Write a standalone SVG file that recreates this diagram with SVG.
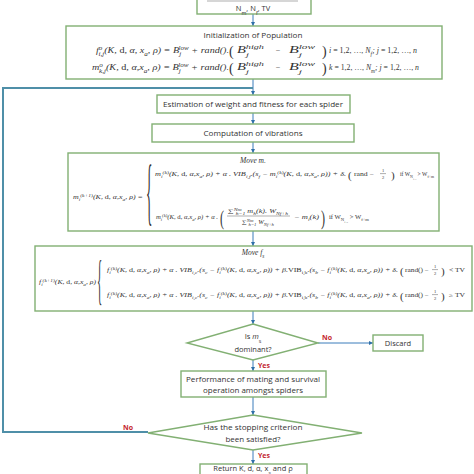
<svg xmlns="http://www.w3.org/2000/svg" width="474" height="474" viewBox="0 0 474 474">
<defs>
<marker id="arr" viewBox="0 0 6 6" refX="6" refY="3" markerWidth="4" markerHeight="4" orient="auto" markerUnits="userSpaceOnUse">
<path d="M0,0 L6,3 L0,6 z" fill="#2f6fa8"/>
</marker>
<style>
.box{fill:#fff;stroke:#82b073;stroke-width:1.4}
.ln{fill:none;stroke:#3a7dbb;stroke-width:1}
.loop{fill:none;stroke:#4f8fa8;stroke-width:2}
.lbl{font-family:"Open Sans","Liberation Sans",sans-serif;font-size:7.5px;fill:#333;text-anchor:middle}
.m{font-family:"Liberation Serif",serif;font-style:italic;fill:#333}
.u{font-style:normal}
.big{font-family:"Liberation Serif",serif;fill:#333}
.yn{font-family:"Open Sans","Liberation Sans",sans-serif;font-weight:bold;font-size:7px;fill:#c4262e}
.sb{baseline-shift:sub;font-size:70%}
.sp{baseline-shift:super;font-size:70%}
</style>
</defs>

<g id="connectors">
<line class="ln" x1="253" y1="14" x2="253" y2="26" marker-end="url(#arr)"/>
<line class="ln" x1="253" y1="79" x2="253" y2="95" marker-end="url(#arr)"/>
<polyline class="loop" points="148,432 3,432 3,88 253,88"/>
<line class="ln" x1="253" y1="113" x2="253" y2="124" marker-end="url(#arr)"/>
<line class="ln" x1="253" y1="142" x2="253" y2="153" marker-end="url(#arr)"/>
<line class="ln" x1="253" y1="231" x2="253" y2="246" marker-end="url(#arr)"/>
<line class="ln" x1="253" y1="311" x2="253" y2="324" marker-end="url(#arr)"/>
<line class="ln" x1="318" y1="343" x2="373" y2="343" marker-end="url(#arr)"/>
<line class="ln" x1="253" y1="360" x2="253" y2="371" marker-end="url(#arr)"/>
<line class="ln" x1="253" y1="397" x2="253" y2="415" marker-end="url(#arr)"/>
<line class="ln" x1="253" y1="450" x2="253" y2="464" marker-end="url(#arr)"/>
<text class="yn" x="322" y="340">No</text>
<text class="yn" x="258" y="368">Yes</text>
<text class="yn" x="123" y="430">No</text>
<text class="yn" x="258" y="458">Yes</text>
</g>

<g id="input">
<rect class="box" x="197" y="-10" width="114" height="24"/>
<rect x="207" y="0" width="91" height="2" fill="#d6d6d6"/>
<text class="lbl" x="253" y="11">N<tspan class="sb">m</tspan>, N<tspan class="sb">f</tspan>, TV</text>
</g>

<g id="init">
<rect class="box" x="66" y="26" width="376" height="53"/>
<text class="lbl" x="253" y="38" font-size="8" textLength="99" lengthAdjust="spacingAndGlyphs">Initialization of Population</text>
<text class="m" x="96" y="53" font-size="8" textLength="133" lengthAdjust="spacingAndGlyphs">f<tspan class="sp">o</tspan><tspan class="sb" dx="-3">i,j</tspan>(K, <tspan class="u">d</tspan>, α, x<tspan class="sb">a</tspan>, ρ) = B<tspan class="sb">j</tspan><tspan class="sp" dx="-2">low</tspan> + rand().</text>
<text class="big" x="229" y="56" font-size="14">(</text>
<text class="m" x="237" y="53" font-size="10" textLength="27" lengthAdjust="spacingAndGlyphs">B<tspan class="sb">j</tspan><tspan class="sp" dx="-2">high</tspan></text>
<text class="big" x="278" y="53" font-size="8" text-anchor="middle">−</text>
<text class="m" x="289" y="53" font-size="10" textLength="26" lengthAdjust="spacingAndGlyphs">B<tspan class="sb">j</tspan><tspan class="sp" dx="-2">low</tspan></text>
<text class="big" x="322" y="56" font-size="14">)</text>
<text class="m" x="329" y="53" font-size="8" textLength="88" lengthAdjust="spacingAndGlyphs">i <tspan class="u">= 1,2, …,</tspan> N<tspan class="sb">f</tspan>; j <tspan class="u">= 1,2, …,</tspan> n</text>
<text class="m" x="92" y="70" font-size="8" textLength="137" lengthAdjust="spacingAndGlyphs">m<tspan class="sp">o</tspan><tspan class="sb" dx="-3">k,j</tspan>(K, <tspan class="u">d</tspan>, α,x<tspan class="sb">a</tspan>, ρ) = B<tspan class="sb">j</tspan><tspan class="sp" dx="-2">low</tspan> + rand().</text>
<text class="big" x="229" y="73" font-size="14">(</text>
<text class="m" x="237" y="70" font-size="10" textLength="27" lengthAdjust="spacingAndGlyphs">B<tspan class="sb">j</tspan><tspan class="sp" dx="-2">high</tspan></text>
<text class="big" x="278" y="70" font-size="8" text-anchor="middle">−</text>
<text class="m" x="289" y="70" font-size="10" textLength="26" lengthAdjust="spacingAndGlyphs">B<tspan class="sb">j</tspan><tspan class="sp" dx="-2">low</tspan></text>
<text class="big" x="322" y="73" font-size="14">)</text>
<text class="m" x="329" y="70" font-size="8" textLength="90" lengthAdjust="spacingAndGlyphs">k <tspan class="u">= 1,2, …,</tspan> N<tspan class="sb">m</tspan>; j <tspan class="u">= 1,2, …,</tspan> n</text>
</g>

<g id="estimation">
<rect class="box" x="157" y="95" width="193" height="18"/>
<text class="lbl" x="253" y="107" textLength="180" lengthAdjust="spacingAndGlyphs">Estimation of weight and fitness for each spider</text>
</g>

<g id="vibrations">
<rect class="box" x="152" y="124" width="202" height="18"/>
<text class="lbl" x="253" y="136" textLength="99" lengthAdjust="spacingAndGlyphs">Computation of vibrations</text>
</g>

<g id="move-m">
<rect class="box" x="68" y="153" width="371" height="78"/>
<text class="m" x="253" y="163" font-size="7.5" text-anchor="middle">Move m.</text>
<text class="m" x="73" y="199" font-size="5.2" textLength="70" lengthAdjust="spacingAndGlyphs">m<tspan class="sb">i</tspan><tspan class="sp">(k+1)</tspan>(K, <tspan class="u">d</tspan>, α,x<tspan class="sb">a</tspan>, ρ) =</text>
<text class="big" transform="translate(146,216) scale(0.18,1)" font-size="74">{</text>
<text class="m" x="155" y="176" font-size="5.2" textLength="191" lengthAdjust="spacingAndGlyphs">m<tspan class="sb">i</tspan><tspan class="sp">(k)</tspan>(K, <tspan class="u">d</tspan>, α,x<tspan class="sb">a</tspan>, ρ) + α . VIB<tspan class="sb">i,f</tspan>.(s<tspan class="sb">f</tspan> − m<tspan class="sb">i</tspan><tspan class="sp">(k)</tspan>(K, <tspan class="u">d</tspan>, α,x<tspan class="sb">a</tspan>, ρ)) + δ.</text>
<text class="big" x="348" y="179" font-size="11">(</text>
<text class="big" x="354" y="176" font-size="5.2" textLength="20" lengthAdjust="spacingAndGlyphs">rand −</text>
<text class="big" x="383" y="172" font-size="4.5" text-anchor="middle">1</text>
<line x1="380" y1="173.6" x2="386" y2="173.6" stroke="#333" stroke-width="0.4"/>
<text class="big" x="383" y="178.5" font-size="4.5" text-anchor="middle">2</text>
<text class="big" x="391" y="179" font-size="11">)</text>
<text class="big" x="400" y="176" font-size="5.2" textLength="34" lengthAdjust="spacingAndGlyphs">if W<tspan class="sb">N<tspan class="sb">f+i</tspan></tspan> &gt; W<tspan class="sb">f+m</tspan></text>
<text class="m" x="156" y="219" font-size="5.2" textLength="62" lengthAdjust="spacingAndGlyphs">m<tspan class="sb">i</tspan><tspan class="sp">(k)</tspan>(K, <tspan class="u">d</tspan>, α,x<tspan class="sb">a</tspan>, ρ) + α .</text>
<text class="big" transform="translate(220,225) scale(0.55,1)" font-size="22">(</text>
<text class="m" x="258" y="212.5" font-size="5.5" text-anchor="middle" textLength="60" lengthAdjust="spacingAndGlyphs">∑<tspan class="sp" font-size="3.2">Nm</tspan><tspan class="sb" font-size="3.2" dx="-4">h=1</tspan> m<tspan class="sb">h</tspan>(k). W<tspan class="sb">N</tspan><tspan class="sb" font-size="2.8" dy="0.8">f+h</tspan></text>
<line x1="227" y1="216" x2="290" y2="216" stroke="#333" stroke-width="0.4"/>
<text class="m" x="258" y="223.5" font-size="5.5" text-anchor="middle" textLength="32" lengthAdjust="spacingAndGlyphs">∑<tspan class="sp" font-size="3.2">Nm</tspan><tspan class="sb" font-size="3.2" dx="-4">h=1</tspan> W<tspan class="sb">N</tspan><tspan class="sb" font-size="2.8" dy="0.8">f+h</tspan></text>
<text class="m" x="294" y="219" font-size="5.2" textLength="25" lengthAdjust="spacingAndGlyphs">− m<tspan class="sb">i</tspan>(k)</text>
<text class="big" transform="translate(321,225) scale(0.55,1)" font-size="22">)</text>
<text class="big" x="329" y="219" font-size="5.2" textLength="40" lengthAdjust="spacingAndGlyphs">if W<tspan class="sb">N<tspan class="sb">f+i</tspan></tspan> &gt; W<tspan class="sb">f+m</tspan></text>
</g>

<g id="move-f">
<rect class="box" x="35" y="246" width="437" height="65"/>
<text class="m" x="253" y="255" font-size="7.5" text-anchor="middle">Move f<tspan class="sb">s</tspan></text>
<text class="m" x="39" y="284" font-size="5.2" textLength="57" lengthAdjust="spacingAndGlyphs">f<tspan class="sb">i</tspan><tspan class="sp">(k+1)</tspan>(K, <tspan class="u">d</tspan>, α,x<tspan class="sb">a</tspan>, ρ)</text>
<text class="big" transform="translate(97,298) scale(0.2,1)" font-size="54">{</text>
<text class="m" x="107" y="272" font-size="5.2" textLength="291" lengthAdjust="spacingAndGlyphs">f<tspan class="sb">i</tspan><tspan class="sp">(k)</tspan>(K, <tspan class="u">d</tspan>, α,x<tspan class="sb">a</tspan>, ρ) + α . VIB<tspan class="sb">i,c</tspan>.(s<tspan class="sb">c</tspan> − f<tspan class="sb">i</tspan><tspan class="sp">(k)</tspan>(K, <tspan class="u">d</tspan>, α,x<tspan class="sb">a</tspan>, ρ)) + β.<tspan class="u">VIB</tspan><tspan class="sb u">i,b</tspan>.(s<tspan class="sb">b</tspan> − f<tspan class="sb">i</tspan><tspan class="sp">(k)</tspan>(K, <tspan class="u">d</tspan>, α,x<tspan class="sb">a</tspan>, ρ)) + δ.</text>
<text class="big" x="400" y="275" font-size="11">(</text>
<text class="big" x="405" y="272" font-size="5.2" textLength="24" lengthAdjust="spacingAndGlyphs">rand() −</text>
<text class="big" x="435" y="268" font-size="4.5" text-anchor="middle">1</text>
<line x1="432" y1="269.6" x2="438" y2="269.6" stroke="#333" stroke-width="0.4"/>
<text class="big" x="435" y="274.5" font-size="4.5" text-anchor="middle">2</text>
<text class="big" x="441" y="275" font-size="11">)</text>
<text class="big" x="449" y="272" font-size="5.2" textLength="16" lengthAdjust="spacingAndGlyphs">&lt; TV</text>
<text class="m" x="107" y="297" font-size="5.2" textLength="291" lengthAdjust="spacingAndGlyphs">f<tspan class="sb">i</tspan><tspan class="sp">(k)</tspan>(K, <tspan class="u">d</tspan>, α,x<tspan class="sb">a</tspan>, ρ) + α . VIB<tspan class="sb">i,c</tspan>.(s<tspan class="sb">c</tspan> − f<tspan class="sb">i</tspan><tspan class="sp">(k)</tspan>(K, <tspan class="u">d</tspan>, α,x<tspan class="sb">a</tspan>, ρ)) + β.<tspan class="u">VIB</tspan><tspan class="sb u">i,b</tspan>.(s<tspan class="sb">b</tspan> − f<tspan class="sb">i</tspan><tspan class="sp">(k)</tspan>(K, <tspan class="u">d</tspan>, α,x<tspan class="sb">a</tspan>, ρ)) + δ.</text>
<text class="big" x="400" y="300" font-size="11">(</text>
<text class="big" x="405" y="297" font-size="5.2" textLength="24" lengthAdjust="spacingAndGlyphs">rand() −</text>
<text class="big" x="435" y="293" font-size="4.5" text-anchor="middle">1</text>
<line x1="432" y1="294.6" x2="438" y2="294.6" stroke="#333" stroke-width="0.4"/>
<text class="big" x="435" y="299.5" font-size="4.5" text-anchor="middle">2</text>
<text class="big" x="441" y="300" font-size="11">)</text>
<text class="big" x="449" y="297" font-size="5.2" textLength="16" lengthAdjust="spacingAndGlyphs">≥ TV</text>
</g>

<g id="dominant">
<polygon class="box" points="253,324 318,343 253,360 187,343"/>
<text class="lbl" x="253" y="339">Is <tspan font-style="italic">m</tspan><tspan class="sb">s</tspan></text>
<text class="lbl" x="253" y="352">dominant?</text>
</g>

<g id="discard">
<rect class="box" x="373" y="335" width="50" height="16"/>
<text class="lbl" x="398" y="346">Discard</text>
</g>

<g id="mating">
<rect class="box" x="181" y="371" width="145" height="26"/>
<text class="lbl" x="253" y="382" textLength="134" lengthAdjust="spacingAndGlyphs">Performance of mating and survival</text>
<text class="lbl" x="253" y="393" textLength="100" lengthAdjust="spacingAndGlyphs">operation amongst spiders</text>
</g>

<g id="stopping">
<polygon class="box" points="253,415 362,433 253,450 148,433"/>
<text class="lbl" x="253" y="430" textLength="99" lengthAdjust="spacingAndGlyphs">Has the stopping criterion</text>
<text class="lbl" x="253" y="442" textLength="55" lengthAdjust="spacingAndGlyphs">been satisfied?</text>
</g>

<g id="return">
<rect class="box" x="200" y="464" width="107" height="16"/>
<text class="lbl" x="253" y="470.5">Return K, d, α, x<tspan class="sb">s</tspan> and ρ</text>
</g>
</svg>
